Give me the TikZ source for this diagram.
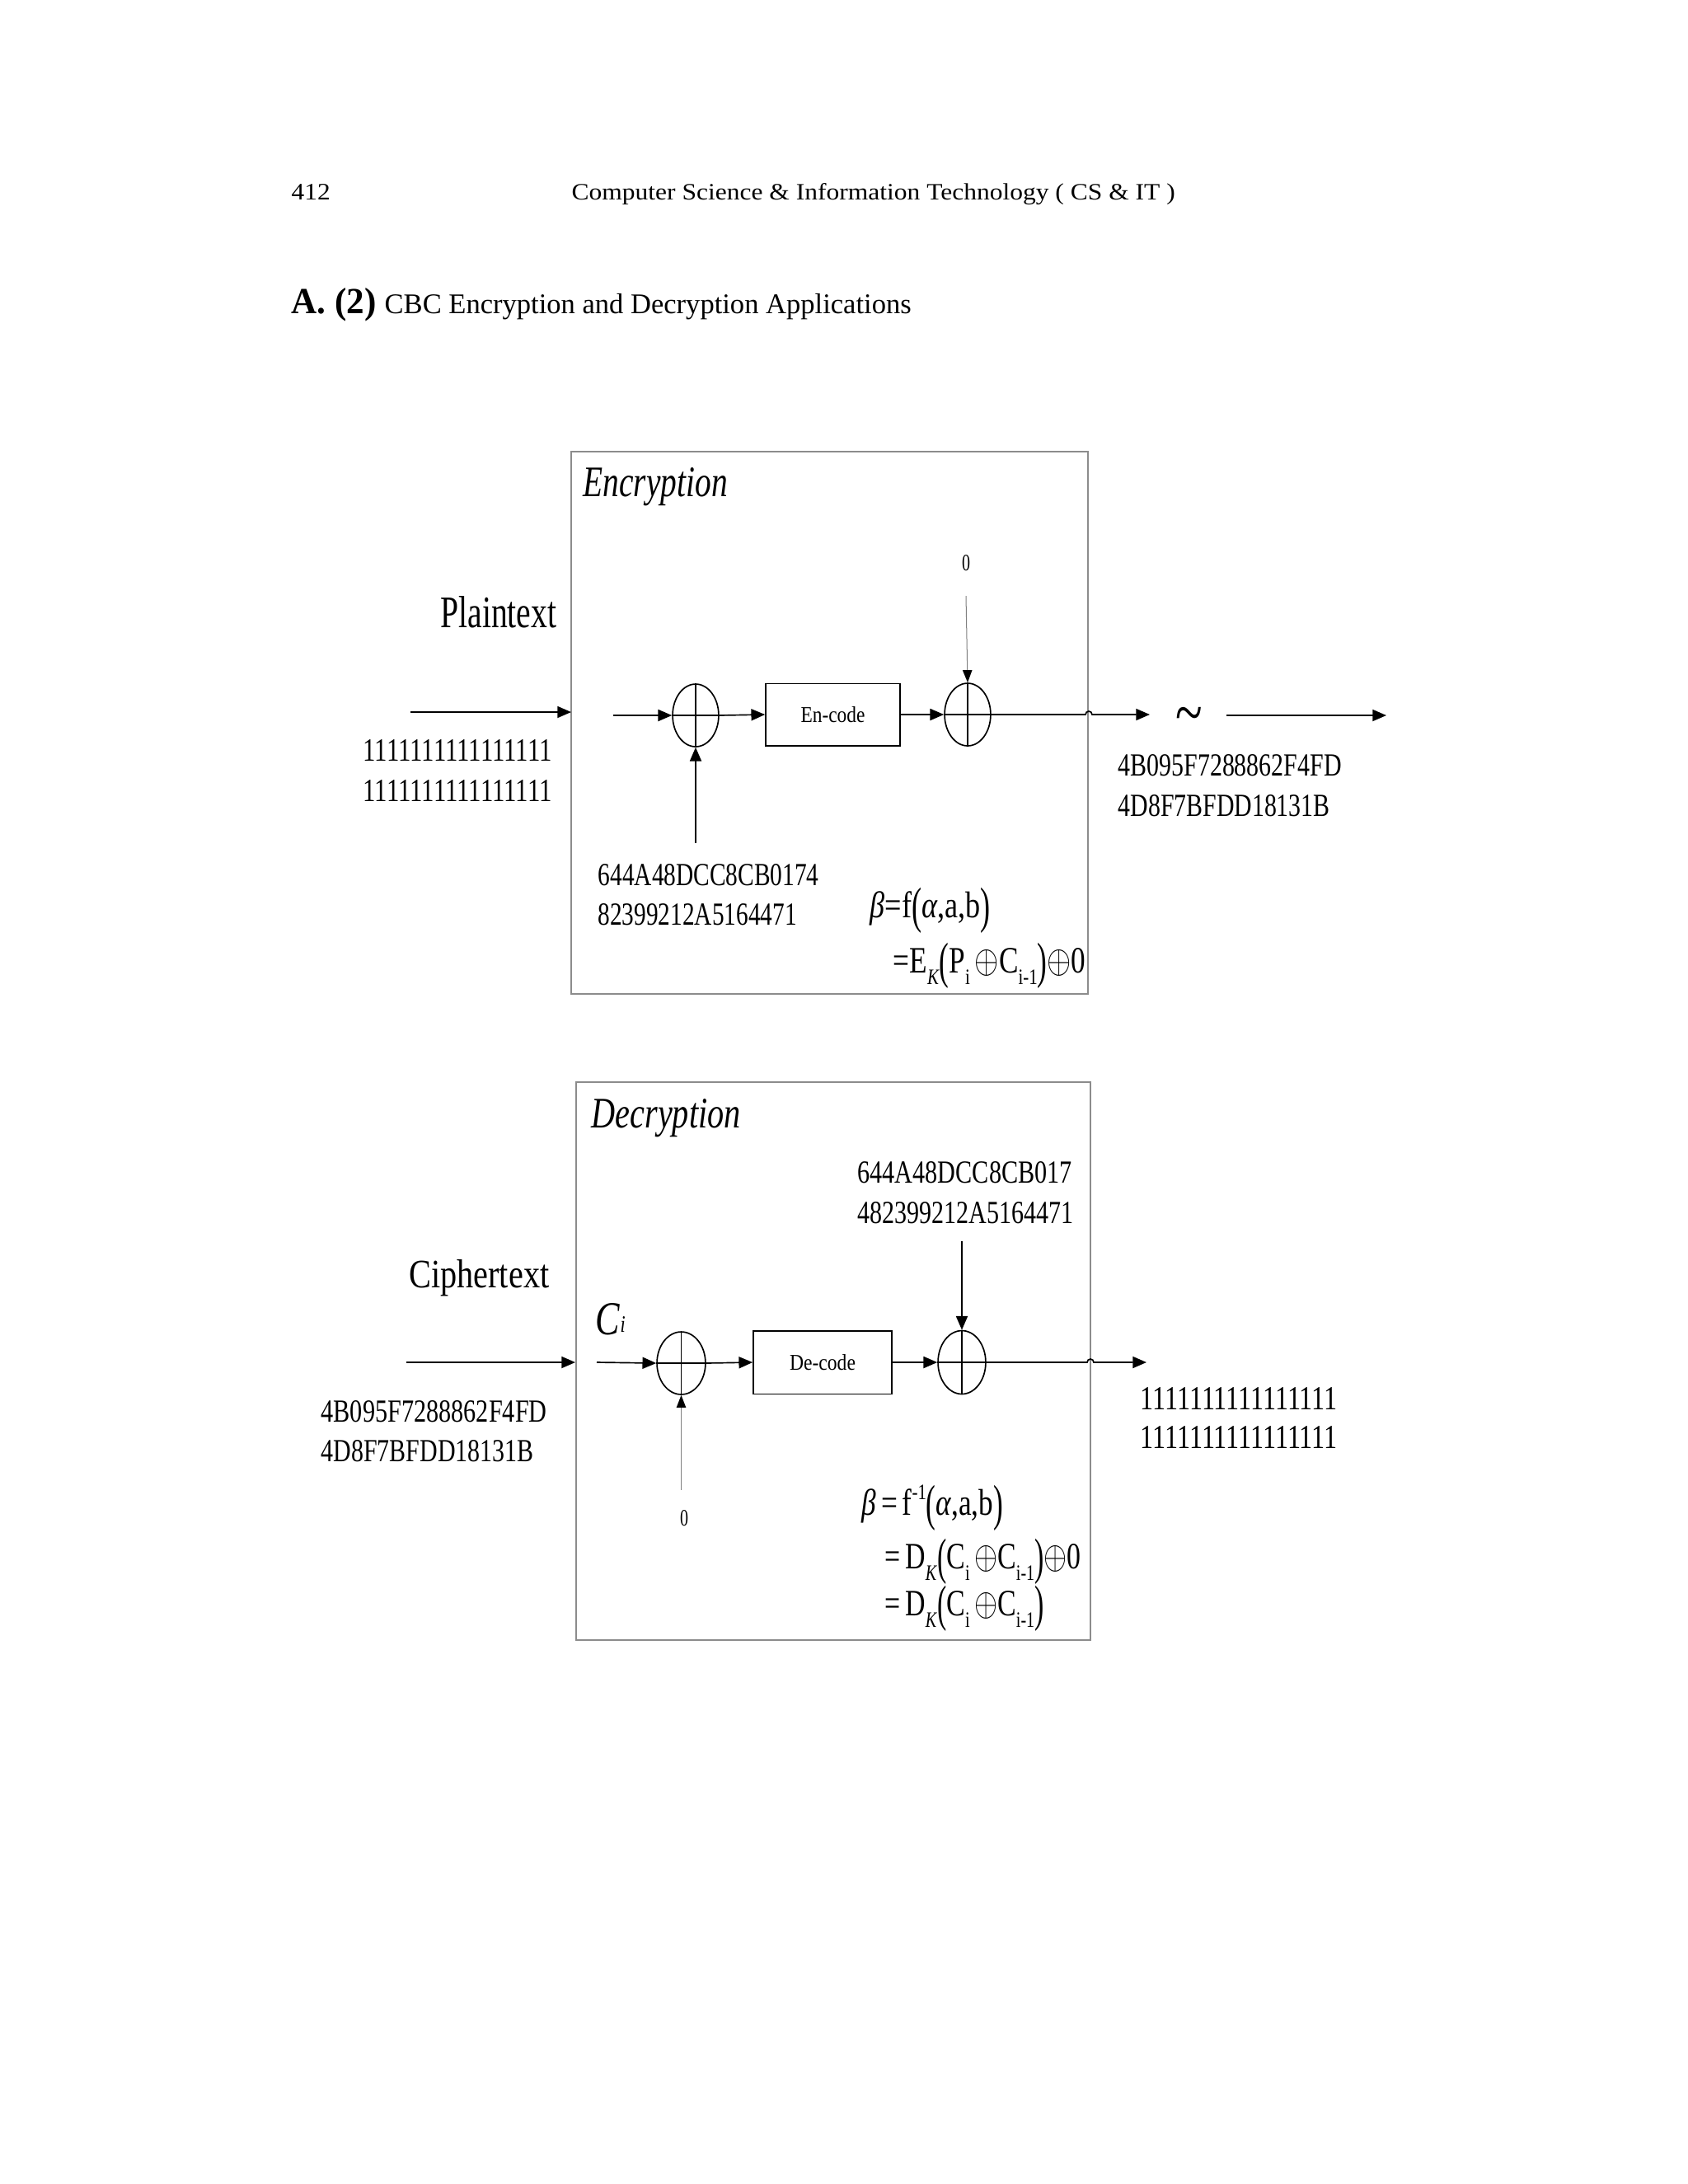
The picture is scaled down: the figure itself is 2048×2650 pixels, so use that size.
\documentclass[tikz,border=0pt]{standalone}
\usepackage{fontspec}
\setmainfont{Liberation Serif}
\usepackage{graphicx}
\usetikzlibrary{arrows.meta,shapes.geometric}
\newdimen\pxu \pxu=0.29883pt
\newcommand\tx[3]{\resizebox{#1\pxu}{#2\pxu}{#3}}
\newcommand\ff{\fontsize{13.5pt}{13.5pt}\selectfont}
\newcommand\bpar[1]{\raisebox{-0.15em}{\scalebox{1}[1.35]{#1}}}
\newcommand\sbx[1]{\raisebox{-0.33em}{\fontsize{8pt}{8pt}\selectfont #1}}
\newcommand\spx[1]{\raisebox{0.42em}{\fontsize{8pt}{8pt}\selectfont #1}}
\newcommand\frm[2][0.78]{\scalebox{#1}[1]{\ff #2}}
\tikzset{
  ln/.style={line width=0.5pt},
  arr/.style={line width=0.5pt,-{Triangle[length=5pt,width=4.2pt]}},
  thinarr/.style={line width=0.3pt,draw=gray,-{Triangle[length=4.5pt,width=3.4pt,color=black]}},
  frame/.style={draw=black!45,line width=0.45pt},
  xorn/.style={ellipse,draw,line width=0.5pt,inner sep=0pt},
  blk/.style={draw,line width=0.5pt,inner sep=0pt},
  lbl/.style={inner sep=0pt,anchor=base west}
}
\begin{document}
\begin{tikzpicture}[x=0.29883pt,y=-0.29883pt]
\useasboundingbox (0,0) rectangle (2048,2650);
% page header
\node[lbl] (pg) at (353,242) {\tx{47}{19}{412}};
\node[lbl] (hd) at (693,242) {\tx{732}{20}{Computer Science \& Information Technology ( CS \& IT )}};
\node[lbl] (sa) at (353,380) {\tx{103}{31}{\textbf{A. (2)}}};
\node[lbl] (sb) at (466,380) {\tx{639}{24}{CBC Encryption and Decryption Applications}};

% ================= Encryption =================
\draw[frame] (693,548) rectangle (1320,1206);
\node[lbl] (etitle) at (707,602) {\tx{175}{35}{\textit{Encryption}}};
\node[lbl,anchor=base east] (plain) at (676,761) {\tx{141}{38}{Plaintext}};
\node[lbl] (pbits1) at (440,923) {\tx{229}{26}{1111111111111111}};
\node[lbl] (pbits2) at (440,972) {\tx{229}{26}{1111111111111111}};
\coordinate (pinA) at (498,864);
\coordinate (pinB) at (693,864);
\draw[arr] (pinA) -- (pinB);

\coordinate (ein) at (744,868);
\node[xorn,minimum width=16.7pt,minimum height=22.7pt] (ex1) at (844,868) {};
\draw[ln] (ex1.north) -- (ex1.south) (ex1.west) -- (ex1.east);
\node[blk,minimum width=48.7pt,minimum height=22.5pt] (enc) at (1010.5,867) {\tx{78}{19}{En-code}};
\node[xorn,minimum width=16.7pt,minimum height=22.7pt] (ex2) at (1174,867) {};
\draw[ln] (ex2.north) -- (ex2.south) (ex2.west) -- (ex2.east);

\draw[arr] (ein) -- (ex1.west);
\draw[arr] (ex1.east) -- (enc.west);
\draw[arr] (enc.east) -- (ex2.west);

\node[inner sep=0pt,anchor=base] (ez) at (1172,692) {\tx{10}{19}{0}};
\coordinate (ezs) at (1172,723);
\draw[thinarr] (ezs) -- (ex2.north);

\coordinate (eout) at (1395,867);
\draw[arr] (ex2.east) -- (1317,867) arc[start angle=180,end angle=360,radius=4] -- (eout);
\node[inner sep=0pt,anchor=base] (tl) at (1443,891) {\scalebox{0.75}[1]{\fontsize{24pt}{24pt}\selectfont\textasciitilde}};
\coordinate (e2a) at (1488,868);
\coordinate (e2b) at (1682,868);
\draw[arr] (e2a) -- (e2b);
\node[lbl] (chex1) at (1356,941) {\tx{271}{26}{4B095F7288862F4FD}};
\node[lbl] (chex2) at (1356,990) {\tx{257}{26}{4D8F7BFDD18131B}};

\coordinate (ekey) at (844,1023);
\draw[arr] (ekey) -- (ex1.south);
\node[lbl] (ek1) at (725,1074) {\tx{268}{26}{644A48DCC8CB0174}};
\node[lbl] (ek2) at (725,1122) {\tx{241}{26}{82399212A5164471}};

\node[lbl] (ef1) at (1055,1113) {\frm[0.8]{\textit{β}=f\bpar{(}\textit{α},a,b\bpar{)}}};
\node[lbl] (ef2) at (1083,1180) {\frm{=E\sbx{\textit{K}}\bpar{(}P\sbx{i}\,$\oplus$C\sbx{i-1}\bpar{)}$\oplus$0}};

% ================= Decryption =================
\draw[frame] (699,1313) rectangle (1323,1990);
\node[lbl] (dtitle) at (717,1368) {\tx{181}{35}{\textit{Decryption}}};
\node[lbl] (dk1) at (1040,1435) {\tx{260}{26}{644A48DCC8CB017}};
\node[lbl] (dk2) at (1040,1484) {\tx{262}{26}{482399212A5164471}};
\node[lbl,anchor=base east] (cipher) at (667,1562) {\tx{170}{34}{Ciphertext}};
\coordinate (cinA) at (493,1653);
\coordinate (cinB) at (698,1653);
\draw[arr] (cinA) -- (cinB);
\node[lbl] (dhex1) at (389,1725) {\tx{274}{26}{4B095F7288862F4FD}};
\node[lbl] (dhex2) at (389,1773) {\tx{258}{26}{4D8F7BFDD18131B}};
\node[lbl] (ci) at (722,1619) {\tx{36}{38}{\textit{C}\raisebox{0.05em}{\tiny\textit{i}}}};

\coordinate (din) at (724,1653);
\node[xorn,minimum width=17.6pt,minimum height=22.7pt] (dx1) at (826.5,1654) {};
\draw[ln] (dx1.north) -- (dx1.south) (dx1.west) -- (dx1.east);
\node[blk,minimum width=50.2pt,minimum height=22.9pt] (dec) at (998,1653) {\tx{80}{19}{De-code}};
\node[xorn,minimum width=17.3pt,minimum height=23pt] (dx2) at (1167,1653) {};
\draw[ln] (dx2.north) -- (dx2.south) (dx2.west) -- (dx2.east);

\draw[arr] (din) -- (dx1.west);
\draw[arr] (dx1.east) -- (dec.west);
\draw[arr] (dec.east) -- (dx2.west);
\coordinate (dkey) at (1167,1506);
\draw[arr] (dkey) -- (dx2.north);

\coordinate (dout) at (1391,1653);
\draw[arr] (dx2.east) -- (1319,1653) arc[start angle=180,end angle=360,radius=4] -- (dout);
\node[lbl] (dbits1) at (1383,1710) {\tx{239}{27}{1111111111111111}};
\node[lbl] (dbits2) at (1383,1757) {\tx{239}{27}{1111111111111111}};

\node[inner sep=0pt,anchor=base] (dz) at (830,1851) {\tx{10}{19}{0}};
\coordinate (dzs) at (826.5,1808);
\draw[thinarr] (dzs) -- (dx1.south);

\node[lbl] (df1) at (1045,1838) {\frm{\textit{β}\,=\,f\spx{-1}\bpar{(}\textit{α},a,b\bpar{)}}};
\node[lbl] (df2) at (1073,1903) {\frm[0.75]{=\,D\sbx{\textit{K}}\bpar{(}C\sbx{i}\,$\oplus$C\sbx{i-1}\bpar{)}$\oplus$0}};
\node[lbl] (df3) at (1073,1960) {\frm[0.75]{=\,D\sbx{\textit{K}}\bpar{(}C\sbx{i}\,$\oplus$C\sbx{i-1}\bpar{)}}};
\end{tikzpicture}
\end{document}
